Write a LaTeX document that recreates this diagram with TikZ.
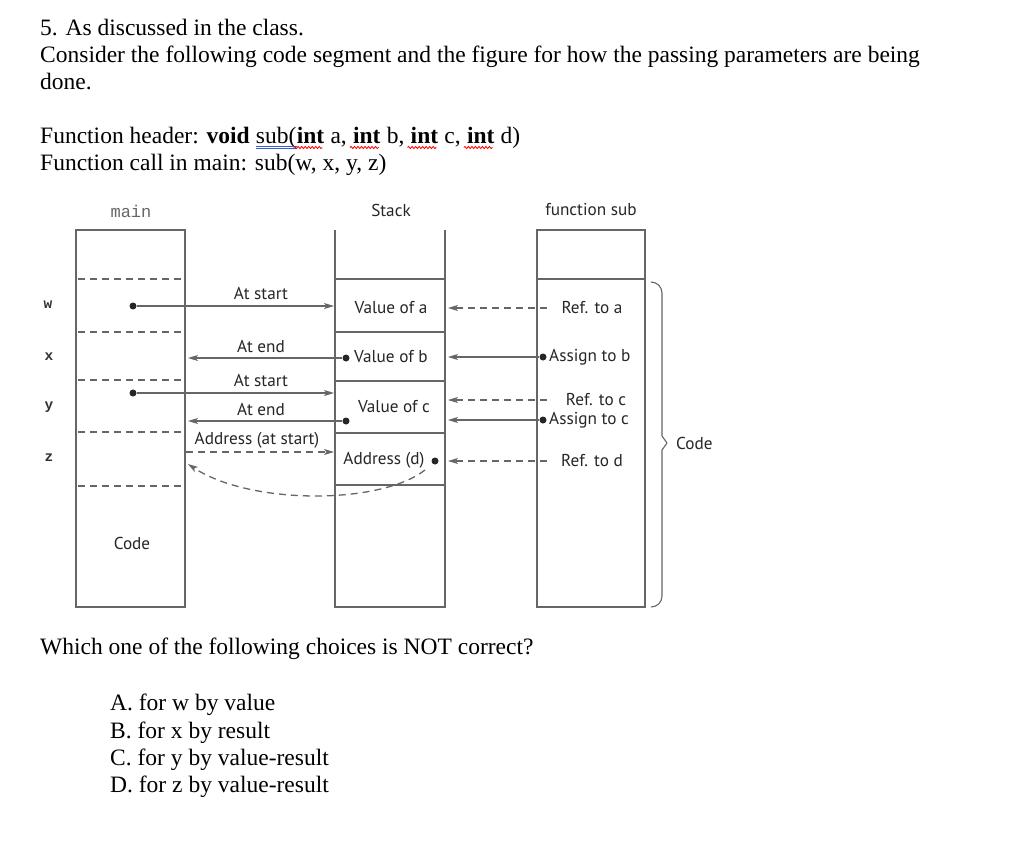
\documentclass[tikz,border=0pt]{standalone}
\usepackage{fontspec}
\setmainfont{Liberation Serif}
\newfontfamily\diag{PT Sans}
\newfontfamily\mono{Liberation Mono}
\usetikzlibrary{arrows.meta,decorations.pathmorphing}
\definecolor{lncol}{HTML}{666666}
\definecolor{txcol}{HTML}{262626}
\definecolor{ulblue}{HTML}{3A5BD0}
\tikzset{
  ln/.style={draw=lncol, line width=1.3pt},
  dsh/.style={ln, dash pattern=on 7pt off 5pt},
  arr/.style={-{Stealth[length=10pt,width=6pt,inset=2.5pt]}},
  dotn/.style={circle, fill=black!85, draw=none, inner sep=0pt, minimum size=7pt},
  dt/.style={font=\diag\fontsize{17.2}{19}\selectfont, text=txcol, inner sep=0pt},
  mt/.style={font=\mono\fontsize{17}{19}\selectfont, text=black!60, inner sep=0pt},
  vt/.style={font=\mono\bfseries\fontsize{14.5}{16}\selectfont, text=black!80, inner sep=0pt},
  body/.style={font=\fontsize{23.5}{27}\selectfont, inner sep=0pt, anchor=base west},
  wave/.style={red, line width=0.8pt, decorate, decoration={snake, amplitude=1.1pt, segment length=3.5pt}},
}
\begin{document}
\begin{tikzpicture}[x=1pt,y=-1pt]
\useasboundingbox (0,0) rectangle (1024,855);
\fill[white] (0,0) rectangle (1024,855);

% ---------- question text ----------
\node[body] (t1) at (40,35) {5. As discussed in the class.};
\node[body] (t2) at (40,62) {Consider the following code segment and the figure for how the passing parameters are being};
\node[body] (t3) at (40,89) {done.};
\node[body] (h1) at (40,143) {Function header: \textbf{void}\ \mbox{}};
\node[body] (h2) at (h1.base east) {sub(};
\node[body] (h3) at (h2.base east) {\textbf{int}};
\node[body] (h4) at (h3.base east) {\ a,\ \mbox{}};
\node[body] (h5) at (h4.base east) {\textbf{int}};
\node[body] (h6) at (h5.base east) {\ b,\ \mbox{}};
\node[body] (h7) at (h6.base east) {\textbf{int}};
\node[body] (h8) at (h7.base east) {\ c,\ \mbox{}};
\node[body] (h9) at (h8.base east) {\textbf{int}};
\node[body] (h10) at (h9.base east) {\ d)};
\draw[ulblue, line width=1pt] ([yshift=-3pt]h2.base west) -- ([yshift=-3pt]h2.base east);
\draw[ulblue, line width=1pt] ([yshift=-5.5pt]h2.base west) -- ([yshift=-5.5pt]h2.base east);
\foreach \n in {h3,h5,h7,h9}
  \draw[wave] ([xshift=-3pt,yshift=-4.5pt]\n.base west) -- ([xshift=-2pt,yshift=-4.5pt]\n.base east);
\node[body] (t5) at (40,170) {Function call in main: sub(w, x, y, z)};

\node[body] (q) at (40,654) {Which one of the following choices is NOT correct?};
\node[body] (ca) at (110,710) {A. for w by value};
\node[body] (cb) at (110,738) {B. for x by result};
\node[body] (cc) at (110,765) {C. for y by value-result};
\node[body] (cd) at (110,792) {D. for z by value-result};

% ---------- headers ----------
\node[mt] (hmain) at (131,211) {main};
\node[dt] (hstack) at (391,210) {Stack};
\node[dt] (hsub) at (591,210) {function sub};

% ---------- main box ----------
\draw[ln] (76,230) rectangle (185,607);
\foreach \yy in {279,332,380,432,486}
  \draw[dsh] (78,\yy) -- (185,\yy);
\node[dt] (codem) at (132,543) {Code};

% ---------- stack ----------
\draw[ln] (335,230) -- (335,607) -- (445,607) -- (445,230);
\foreach \yy in {279,332,381,433,485}
  \draw[ln] (335,\yy) -- (445,\yy);

% ---------- function sub ----------
\draw[ln] (537,230) rectangle (645,607);
\draw[ln] (537,279) -- (645,279);

% brace
\draw[ln, line width=1.1pt, line join=round] (651,282) to[out=0,in=90] (662,293) -- (662,436) -- (667,443) -- (662,450) -- (662,596) to[out=270,in=0] (651,607);
\node[dt, anchor=west] (coder) at (676,443) {Code};

% ---------- side labels ----------
\node[vt] (lw) at (48,305) {w};
\node[vt] (lx) at (49,357) {x};
\node[vt] (ly) at (49,407) {y};
\node[vt] (lz) at (49,458) {z};

% ---------- stack labels ----------
\node[dt] (va) at (391,308) {Value of a};
\node[dt, anchor=west] (vb) at (354,357) {Value of b};
\node[dt] (vc) at (394,407) {Value of c};
\node[dt] (ad) at (384,460) {Address (d)};

% ---------- sub labels ----------
\node[dt] (ra) at (592,308) {Ref. to a};
\node[dt, anchor=west] (sb) at (549,357) {Assign to b};
\node[dt] (rc) at (596,400) {Ref. to c};
\node[dt, anchor=west] (sc) at (549,420) {Assign to c};
\node[dt] (rd) at (592,461) {Ref. to d};

% ---------- arrow labels ----------
\node[dt] (l1) at (261,293) {At start};
\node[dt] (l2) at (261,346) {At end};
\node[dt] (l3) at (261,380) {At start};
\node[dt] (l4) at (261,409) {At end};
\node[dt] (l5) at (257,440) {Address (at start)};

% ---------- dots ----------
\node[dotn] (dw) at (133,306) {};
\node[dotn] (dy) at (133,393) {};
\node[dotn] (db) at (346,358) {};
\node[dotn] (dc) at (346,421) {};
\node[dotn] (dd) at (435,461) {};
\node[dotn] (sdb) at (543,357) {};
\node[dotn] (sdc) at (543,420) {};

% ---------- endpoints ----------
\coordinate (sa) at (334,306);
\coordinate (sy) at (334,393);
\coordinate (mx) at (188,358);
\coordinate (my) at (188,421);
\coordinate (mz0) at (186,452);
\coordinate (sz) at (334,452);
\coordinate (mz1) at (188,464);
\coordinate (cs) at (425,470);
\coordinate (ea) at (448,308);
\coordinate (fa) at (547,308);
\coordinate (eb) at (448,357);
\coordinate (ec) at (448,400);
\coordinate (fc) at (547,400);
\coordinate (ec2) at (448,420);
\coordinate (ed) at (448,461);
\coordinate (fd) at (547,461);

% ---------- connectors ----------
\draw[ln, arr] (dw) -- (sa);
\draw[ln, arr] (db) -- (mx);
\draw[ln, arr] (dy) -- (sy);
\draw[ln, arr] (dc) -- (my);
\draw[dsh, arr] (mz0) -- (sz);
\draw[dsh, arr] (cs) .. controls (380,505) and (250,505) .. (mz1);
\draw[dsh, arr] (fa) -- (ea);
\draw[ln, arr] (sdb) -- (eb);
\draw[dsh, arr] (fc) -- (ec);
\draw[ln, arr] (sdc) -- (ec2);
\draw[dsh, arr] (fd) -- (ed);
\end{tikzpicture}
\end{document}
